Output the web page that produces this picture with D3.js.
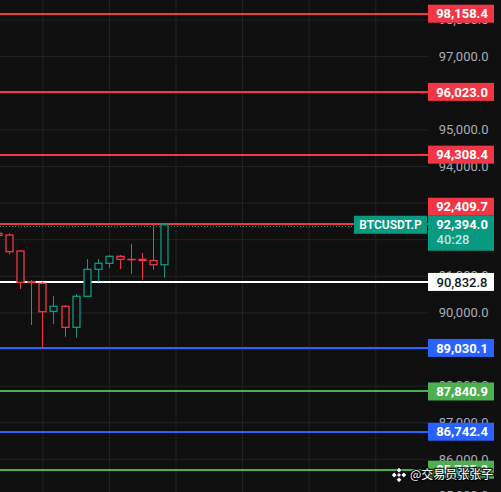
<!DOCTYPE html>
<html>
<head>
<meta charset="utf-8">
<script src="https://cdn.jsdelivr.net/npm/d3@7"></script>
<style>
  html, body { margin: 0; padding: 0; background: #0f0f0f; overflow: hidden; }
  svg { display: block; }
</style>
</head>
<body>
<svg id="chart"></svg>
<script>
// candles (index 0 is cut off at the left edge)
const candleIdx = [0, 1, 2, 3, 4, 5, 6, 7, 8, 9, 10, 11, 12, 13, 14, 15];
const opens  = [92160, 92114, 91677, 90838, 90795, 90030, 90167, 89593, 90440, 91177, 91341, 91532, 91450, 91450, 91417, 91303];
const highs  = [92180, 92160, 91704, 90885, 90838, 90448, 90202, 90502, 91458, 91458, 91568, 91568, 91868, 91622, 92409.7, 92394.0];
const lows   = [92080, 91587, 90639, 89656, 89020, 89683, 89336, 89309, 90430, 90838, 91221, 91185, 91057, 90893, 91166, 90948];
const closes = [92105, 91658, 90822, 90817, 90019, 90167, 89593, 90440, 91177, 91341, 91532, 91450, 91439, 91417, 91303, 92394.0];

// horizontal levels drawn on the chart
const levelPrices = [98158.4, 96023.0, 94308.4, 92409.7, 90832.8, 89030.1, 87840.9, 86742.4, 85705.2];
const levelKinds  = ["red", "red", "red", "red", "white", "blue", "green", "blue", "green"];

const priceTicks = [85000, 86000, 87000, 88000, 89000, 90000, 91000, 92000, 93000, 94000, 95000, 96000, 97000, 98000];
const timeGrid = [4, 10, 16, 22, 28, 34];

const symbol = "BTCUSDT.P";
const lastPrice = 92394.0;
const countdown = "40:28";
const watermark = "@交易员张张子";

const W = 501, H = 492;
const paneW = 428;
const colors = {
  red: "#f23645", white: "#ffffff", blue: "#2962ff", green: "#4caf50",
  up: "#089981", down: "#f23645", bg: "#0f0f0f", grid: "#232323", tick: "#a9acb4"
};

const svg = d3.select("#chart").attr("width", W).attr("height", H);
svg.append("rect").attr("width", W).attr("height", H).attr("fill", colors.bg);

const x = d3.scaleLinear().domain([4, 10]).range([42.3, 108.9]);
const y = d3.scaleLinear().domain([85000, 98000]).range([495.5, 19.5]);

// grid
const gx = svg.append("g").attr("transform", "translate(0," + H + ")")
  .call(d3.axisBottom(x).tickValues(timeGrid).tickSize(-H).tickFormat(""));
gx.select(".domain").remove();
gx.selectAll("line").attr("stroke", colors.grid);

const gy = svg.append("g")
  .call(d3.axisRight(y).tickValues(priceTicks).tickSize(paneW).tickFormat(""));
gy.select(".domain").remove();
gy.selectAll("line").attr("stroke", colors.grid);

// level lines
svg.append("g").selectAll("line")
  .data(levelPrices)
  .enter()
  .append("line")
  .attr("x1", 0)
  .attr("x2", paneW)
  .attr("y1", d => Math.round(y(d)))
  .attr("y2", d => Math.round(y(d)))
  .attr("stroke", (d, i) => colors[levelKinds[i]])
  .attr("stroke-width", 2);

// last price dotted line
svg.append("line")
  .attr("x1", 0).attr("x2", paneW)
  .attr("y1", Math.round(y(lastPrice)) + 1.5)
  .attr("y2", Math.round(y(lastPrice)) + 1.5)
  .attr("stroke", colors.up)
  .attr("stroke-dasharray", "1 2");

// candles (hollow)
const bodyW = 7;
const candles = svg.append("g").selectAll("g")
  .data(candleIdx)
  .enter()
  .append("g");

candles.append("line")
  .attr("x1", i => Math.round(x(i)) + 0.5)
  .attr("x2", i => Math.round(x(i)) + 0.5)
  .attr("y1", i => y(highs[i]))
  .attr("y2", i => y(lows[i]))
  .attr("stroke", i => closes[i] >= opens[i] ? colors.up : colors.down);

candles.append("rect")
  .attr("x", i => Math.round(x(i)) + 0.5 - bodyW / 2)
  .attr("y", i => y(Math.max(opens[i], closes[i])))
  .attr("width", bodyW)
  .attr("height", i => Math.abs(y(opens[i]) - y(closes[i])))
  .attr("fill", colors.bg)
  .attr("stroke", i => closes[i] >= opens[i] ? colors.up : colors.down)
  .attr("stroke-width", 1.3);

// price axis
svg.append("rect").attr("x", paneW).attr("width", W - paneW).attr("height", H).attr("fill", colors.bg);
const ay = svg.append("g").attr("transform", "translate(" + paneW + ",0)")
  .call(d3.axisRight(y).tickValues(priceTicks).tickSize(0).tickFormat(d3.format(",.1f")));
ay.select(".domain").remove();
ay.selectAll("text")
  .attr("x", 60.5)
  .attr("text-anchor", "end")
  .attr("fill", colors.tick)
  .style("font-family", "Roboto, sans-serif")
  .style("font-size", "13px");

// level labels
const boxX = paneW, boxW = 66, boxH = 18;
const lastY = y(lastPrice);
const lastTop = lastY - boxH / 2;
const fmt = d3.format(",.1f");

const labels = svg.append("g").selectAll("g")
  .data(levelPrices)
  .enter()
  .append("g")
  .attr("transform", d => {
    let cy = y(d);
    if (Math.abs(cy - lastY) < boxH) cy = lastTop - boxH / 2;
    return "translate(0," + cy + ")";
  });

labels.append("rect")
  .attr("x", boxX)
  .attr("y", -boxH / 2)
  .attr("width", boxW)
  .attr("height", boxH)
  .attr("fill", (d, i) => colors[levelKinds[i]]);

labels.append("text")
  .attr("x", boxX + boxW / 2 + 1)
  .attr("dy", "0.36em")
  .attr("text-anchor", "middle")
  .attr("fill", (d, i) => levelKinds[i] === "white" ? "#131722" : "#ffffff")
  .style("font-family", "Roboto, sans-serif")
  .style("font-size", "13px")
  .style("font-weight", (d, i) => levelKinds[i] === "white" ? 500 : 700)
  .text(d => fmt(d));

// current price label
const cur = svg.append("g");
cur.append("rect")
  .attr("x", boxX).attr("y", lastTop)
  .attr("width", boxW).attr("height", 35)
  .attr("fill", colors.up);
cur.append("text")
  .attr("x", boxX + boxW / 2 + 1).attr("y", lastY).attr("dy", "0.36em")
  .attr("text-anchor", "middle").attr("fill", "#ffffff")
  .style("font-family", "Roboto, sans-serif").style("font-size", "13px").style("font-weight", 700)
  .text(fmt(lastPrice));
cur.append("text")
  .attr("x", boxX + 25).attr("y", lastY + 14.5).attr("dy", "0.36em")
  .attr("text-anchor", "middle").attr("fill", "rgba(255,255,255,0.75)")
  .style("font-family", "Roboto, sans-serif").style("font-size", "13px").style("font-weight", 500)
  .text(countdown);

// symbol label
cur.append("rect")
  .attr("x", 354).attr("y", lastY - 9)
  .attr("width", 73).attr("height", 18)
  .attr("fill", colors.up);
cur.append("text")
  .attr("x", 390.5).attr("y", lastY).attr("dy", "0.36em")
  .attr("text-anchor", "middle").attr("fill", "#ffffff")
  .style("font-family", "Roboto, sans-serif").style("font-size", "12px").style("font-weight", 600)
  .text(symbol);

// watermark
const wm = svg.append("g").attr("transform", "translate(399,475)");
const dia = (s) => "M0," + (-s) + "L" + s + ",0L0," + s + "L" + (-s) + ",0Z";
[[0, -4.8], [4.8, 0], [0, 4.8], [-4.8, 0]].forEach(p => {
  wm.append("path").attr("d", dia(2.4)).attr("transform", "translate(" + p[0] + "," + p[1] + ")")
    .attr("fill", "#ffffff").attr("stroke", "#000").attr("stroke-width", 1).attr("paint-order", "stroke");
});
wm.append("path").attr("d", dia(2)).attr("fill", "#ffffff").attr("stroke", "#000").attr("stroke-width", 1).attr("paint-order", "stroke");
wm.append("text")
  .attr("x", 11).attr("dy", "0.36em")
  .attr("fill", "#ffffff").attr("stroke", "rgba(0,0,0,0.8)").attr("stroke-width", 2.5)
  .attr("paint-order", "stroke")
  .style("font-family", "'Noto Sans CJK SC', sans-serif").style("font-size", "12px")
  .text(watermark);
</script>
</body>
</html>
